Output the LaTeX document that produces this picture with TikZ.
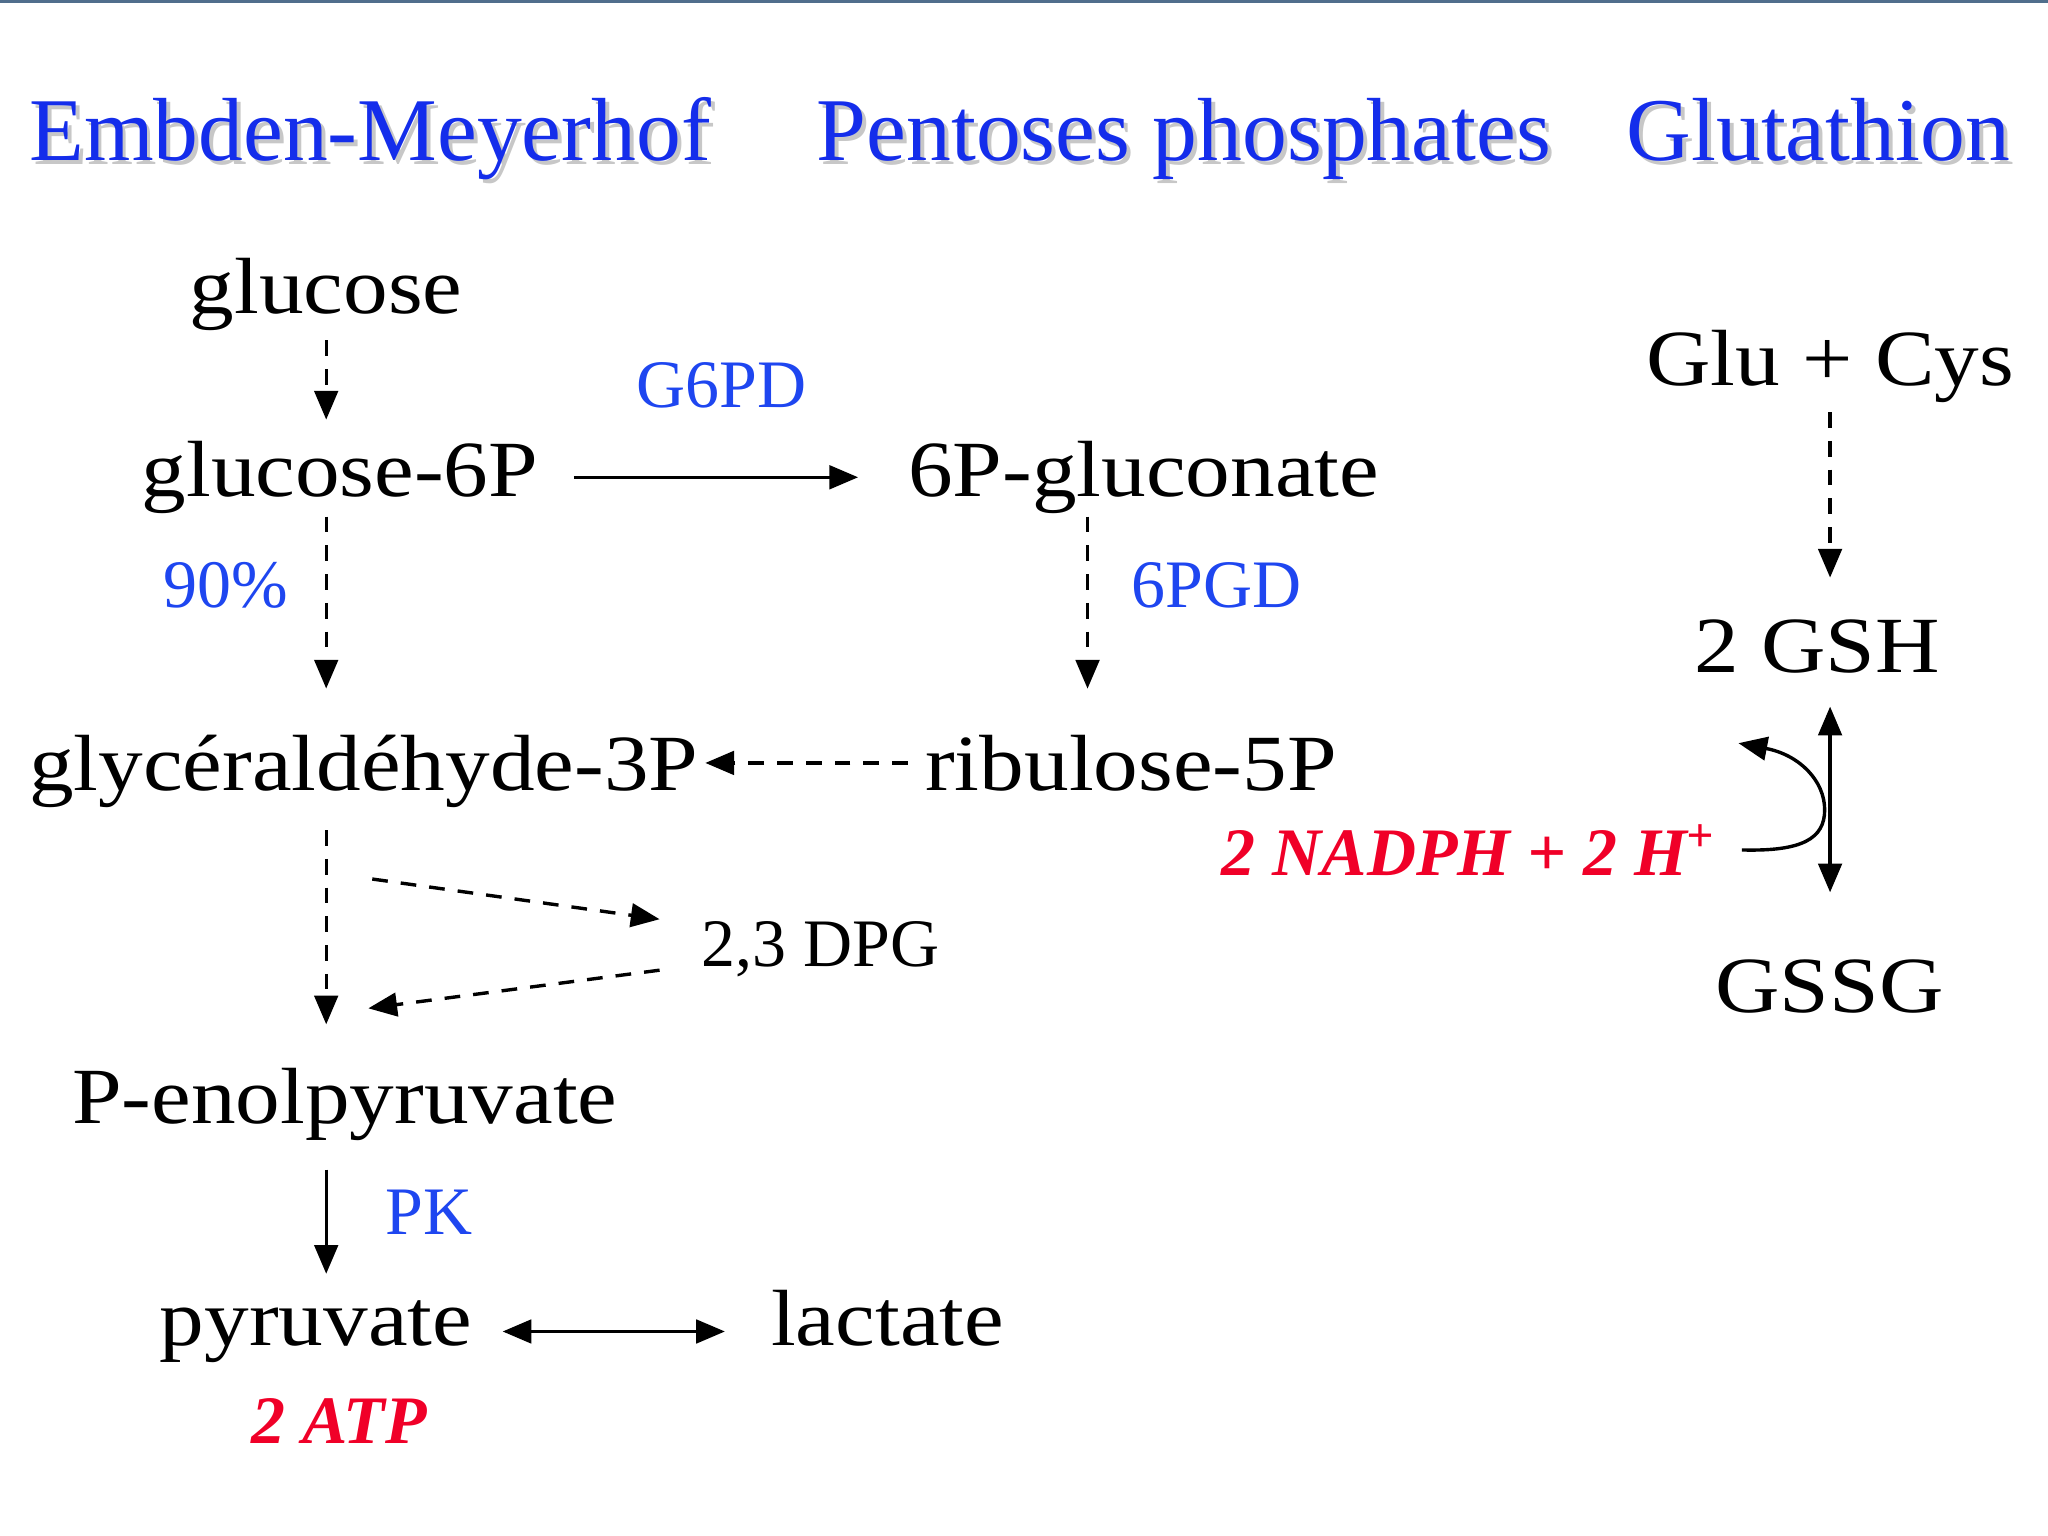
\documentclass[tikz,border=0pt]{standalone}
\usepackage{fontspec}
\setmainfont{Liberation Serif}
\newfontfamily\widefont{Liberation Serif}[FakeStretch=1.12]
\usetikzlibrary{arrows.meta}
\definecolor{titleblue}{RGB}{20,45,235}
\definecolor{enzblue}{RGB}{30,70,240}
\definecolor{energyred}{RGB}{240,0,40}
\definecolor{frameblue}{RGB}{80,110,140}
\newcommand{\shadowed}[1]{\rlap{\hspace{1.5pt}\raisebox{-1.5pt}{\color{black!22}#1}}#1}

\begin{document}
\begin{tikzpicture}[x=0.5pt,y=-0.5pt,
  mol/.style={inner sep=0pt,anchor=base west,font=\widefont\fontsize{30.5}{36}\selectfont},
  title/.style={inner sep=0pt,anchor=base west,text=titleblue,font=\fontsize{34.3}{40}\selectfont},
  enz/.style={inner sep=0pt,anchor=base west,text=enzblue,font=\fontsize{26}{30}\selectfont},
  small/.style={inner sep=0pt,anchor=base west,font=\fontsize{26}{30}\selectfont},
  energy/.style={inner sep=0pt,anchor=base west,text=energyred,font=\fontsize{26}{30}\selectfont\bfseries\itshape},
  arrow/.style={line width=1.3pt,-{Triangle[length=11pt,width=9pt]}},
  dasharrow/.style={arrow,dash pattern=on 6pt off 5pt},
  biarrow/.style={line width=1.3pt,{Triangle[length=11pt,width=9pt]}-{Triangle[length=11pt,width=9pt]}}]
  \useasboundingbox (0,0) rectangle (1568,1176);
  \fill[frameblue] (0,0) rectangle (1568,2);
  % column titles
  \node[title] (emb) at (22,123) {\shadowed{Embden-Meyerhof}};
  \node[title] (pent) at (625,123) {\shadowed{Pentoses phosphates}};
  \node[title] (glut) at (1245,123) {\shadowed{Glutathion}};
  % glycolysis and shunt
  \node[mol] (glc) at (145,240) {glucose};
  \node[mol] (g6p) at (108,380) {glucose-6P};
  \node[mol] (pg) at (695,380) {6P-gluconate};
  \node[mol] (glyc) at (22,605) {glycéraldéhyde-3P};
  \node[mol] (rib) at (708,605) {ribulose-5P};
  \node[mol] (pep) at (55,860) {P-enolpyruvate};
  \node[mol] (pyr) at (122,1030) {pyruvate};
  \node[mol] (lac) at (590,1030) {lactate};
  \node[small] (dpg) at (537,740) {2,3 DPG};
  \node[enz] (g6pd) at (487,312) {G6PD};
  \node[enz] (pct) at (125,465) {90\%};
  \node[enz] (pgd) at (866,465) {6PGD};
  \node[enz] (pk) at (295,945) {PK};
  \node[energy] (atp) at (192,1105) {2 ATP};
  % glutathion
  \node[mol] (glucys) at (1260,295) {Glu + Cys};
  \node[mol] (gsh) at (1297,515) {2 GSH};
  \node[mol] (gssg) at (1313,775) {GSSG};
  \node[energy] (nadph) at (935,670) {2 NADPH + 2 H\textsuperscript{+}};
  \coordinate (dpgfrom) at (285,673);
  \coordinate (dpgto) at (282,772);
  \coordinate (nadpout) at (1331,569);

  \draw[dasharrow,shorten <=3.5pt,shorten >=8pt] (glc.south) -- (glc.south |- g6p.north);
  \draw[arrow,shorten <=13.5pt,shorten >=19pt] (g6p.east) -- (g6p.east -| pg.west);
  \draw[dasharrow,shorten <=1pt,shorten >=17.5pt] (glc.south |- g6p.south) -- (glc.south |- glyc.north);
  \draw[dasharrow,shorten <=1pt,shorten >=17.5pt] ([xshift=-21.5pt]pg.south) -- ([xshift=-21.5pt]pg.south |- rib.north);
  \draw[dasharrow,shorten <=6.5pt,shorten >=2.5pt] (rib.west) -- (rib.west -| glyc.east);
  \draw[dasharrow,shorten <=8.5pt,shorten >=16.5pt] (glc.south |- glyc.south) -- (glc.south |- pep.north);
  \draw[dasharrow] (dpgfrom) -- ([xshift=-16pt,yshift=11.5pt]dpg.west);
  \draw[dasharrow] ([xshift=-16pt,yshift=-8pt]dpg.west) -- (dpgto);
  \draw[arrow,shorten <=11pt,shorten >=10pt] (glc.south |- pep.south) -- (glc.south |- pyr.north);
  \draw[biarrow,shorten <=11.5pt,shorten >=17.5pt] (pyr.east) -- (pyr.east -| lac.west);
  \draw[dasharrow,shorten <=3.5pt,shorten >=16pt] (glucys.south) -- (glucys.south |- gsh.north);
  \draw[biarrow,shorten <=12.5pt,shorten >=25.5pt] (glucys.south |- gsh.south) -- (glucys.south |- gssg.north);
  \draw[arrow] ([xshift=10pt]nadph.east) .. controls (1380,652) and (1397,642) .. (1397,620)
    .. controls (1397,598) and (1378,578) .. (nadpout);
\end{tikzpicture}
\end{document}
